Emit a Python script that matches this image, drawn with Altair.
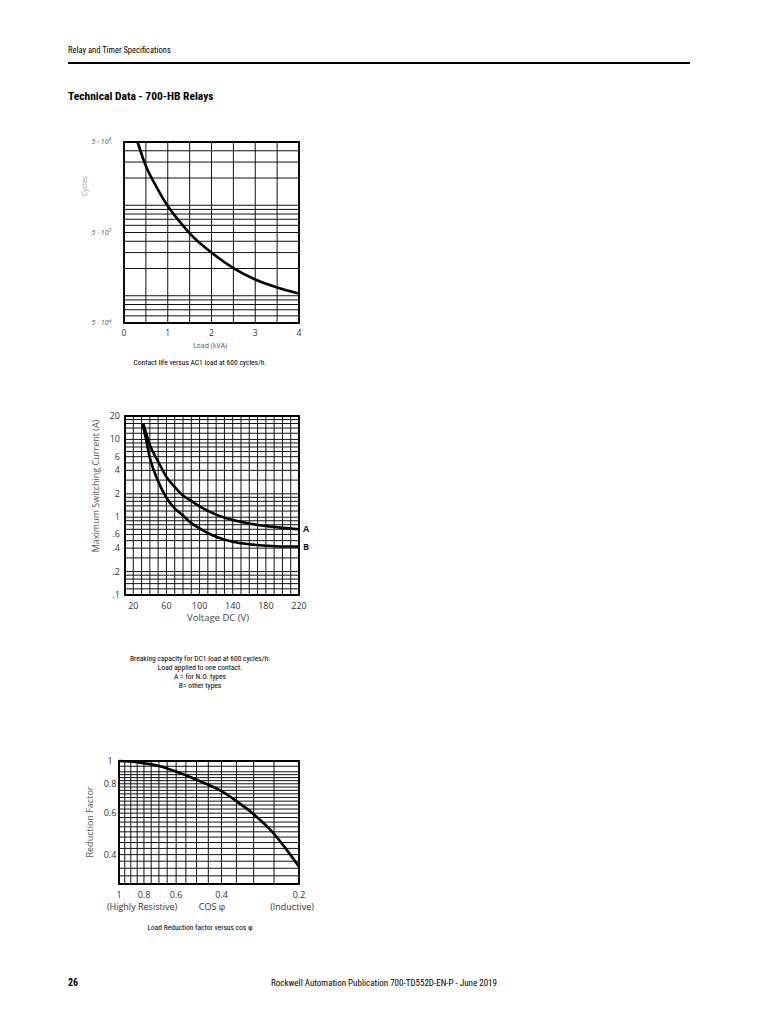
import altair as alt
import pandas as pd

FONT_C = "'Liberation Sans Narrow', 'Roboto Condensed', Roboto, sans-serif"
FONT_R = "'Open Sans', 'Noto Sans', sans-serif"

# ---------------- Chart 1: contact life vs AC1 load ----------------
c1_load = [0.31, 0.5, 0.75, 1.0, 1.25, 1.5, 2.0, 2.5, 3.0, 3.5, 4.0]
c1_cycles = [5.0e6, 2.71e6, 1.57e6, 9.8e5, 6.8e5, 4.9e5, 3.0e5, 2.02e5, 1.51e5, 1.235e5, 1.06e5]
c1_xgrid = [0, 0.5, 1, 1.5, 2, 2.5, 3, 3.5, 4]
c1_ygrid = [5e4, 6e4, 7e4, 8e4, 9e4, 1e5, 2e5, 3e5, 4e5, 5e5, 6e5, 7e5, 8e5, 9e5,
            1e6, 2e6, 3e6, 4e6, 5e6]
c1_xticks = [0, 1, 2, 3, 4]
c1_yticks = [5e4, 5e5, 5e6]
c1_ylabels = ["5 · 10⁴", "5 · 10⁵", "5 · 10⁶"]

# ---------------- Chart 2: DC breaking capacity ----------------
c2_volt_a = [32, 35, 40, 50, 60, 70, 80, 90, 100, 120, 140, 160, 180, 200, 220]
c2_amp_a = [16, 12.5, 8.5, 5.2, 3.3, 2.45, 1.9, 1.62, 1.38, 1.08, 0.92, 0.83, 0.77, 0.73, 0.70]
c2_volt_b = [31, 35, 40, 50, 60, 70, 80, 90, 100, 120, 140, 160, 180, 200, 220]
c2_amp_b = [16, 10.5, 5.8, 2.9, 1.78, 1.3, 1.05, 0.84, 0.72, 0.56, 0.485, 0.45, 0.43, 0.42, 0.42]
c2_xgrid = list(range(10, 221, 10))
c2_ygrid = [0.1, 0.12, 0.14, 0.16, 0.18, 0.2, 0.3, 0.4, 0.5, 0.6, 0.7, 0.8, 0.9,
            1, 1.2, 1.4, 1.6, 1.8, 2, 3, 4, 5, 6, 7, 8, 9,
            10, 12, 14, 16, 18, 20]
c2_xticks = [20, 60, 100, 140, 180, 220]
c2_yticks = [20, 10, 6, 4, 2, 1, 0.6, 0.4, 0.2, 0.1]
c2_ylabels = ["20", "10", "6", "4", "2", "1", ".6", ".4", ".2", ".1"]
c2_series = ["A", "B"]

# ---------------- Chart 3: load reduction factor ----------------
c3_cos = [1.0, 0.95, 0.9, 0.8, 0.7, 0.6, 0.5, 0.4, 0.35, 0.3, 0.25, 0.225, 0.2]
c3_factor = [1.0, 0.998, 0.995, 0.978, 0.953, 0.902, 0.832, 0.744, 0.675, 0.594, 0.49, 0.424, 0.355]
c3_xgrid = [round(0.2 + 0.05 * i, 3) for i in range(17)]
c3_ygrid = [round(0.3 + 0.025 * i, 3) for i in range(25)] + [0.95, 1.0]
c3_xticks = [1, 0.8, 0.6, 0.4, 0.2]
c3_xlabels = ["1", "0.8", "0.6", "0.4", "0.2"]
c3_yticks = [1, 0.8, 0.6, 0.4]
c3_ylabels = ["1", "0.8", "0.6", "0.4"]


def grid(p, xs, ys, sx, sy, xdom, ydom, color, w):
    vdf = pd.DataFrame({p + "x": xs, p + "y": ydom[0], p + "y2": ydom[1]})
    hdf = pd.DataFrame({p + "x": xdom[0], p + "x2": xdom[1], p + "y": ys})
    v = alt.Chart(vdf).mark_rule(color=color, strokeWidth=w).encode(
        x=alt.X(p + "x:Q", scale=sx, axis=None),
        y=alt.Y(p + "y:Q", scale=sy, axis=None),
        y2=p + "y2:Q")
    h = alt.Chart(hdf).mark_rule(color=color, strokeWidth=w).encode(
        x=alt.X(p + "x:Q", scale=sx, axis=None),
        x2=p + "x2:Q",
        y=alt.Y(p + "y:Q", scale=sy, axis=None))
    bdf = pd.DataFrame({p + "x": [xdom[0]], p + "x2": [xdom[1]],
                        p + "y": [ydom[0]], p + "y2": [ydom[1]]})
    b = alt.Chart(bdf).mark_rect(fillOpacity=0, stroke="black", strokeWidth=1.8).encode(
        x=alt.X(p + "x:Q", scale=sx, axis=None), x2=p + "x2:Q",
        y=alt.Y(p + "y:Q", scale=sy, axis=None), y2=p + "y2:Q")
    return v, h, b


def ticktext(p, xs, ys, labels, sx, sy, **kw):
    df = pd.DataFrame({p + "x": xs, p + "y": ys, p + "t": labels})
    return alt.Chart(df).mark_text(**kw).encode(
        x=alt.X(p + "x:Q", scale=sx, axis=None),
        y=alt.Y(p + "y:Q", scale=sy, axis=None),
        text=p + "t:N")


def ptext(text, x, y, size, weight="normal", align="center", color="black",
          font=FONT_C, angle=0, style="normal"):
    df = pd.DataFrame({"t": [text]})
    return alt.Chart(df).mark_text(
        fontSize=size, fontWeight=weight, align=align, baseline="middle",
        color=color, font=font, angle=angle, fontStyle=style).encode(
        x=alt.value(x), y=alt.value(y), text="t:N")


# ---- chart 1 ----
s1x = alt.Scale(domain=[0, 4], range=[124, 299], nice=False, zero=False)
s1y = alt.Scale(type="log", domain=[5e4, 5e6], range=[323, 142], nice=False)
g1 = grid("a", c1_xgrid, c1_ygrid, s1x, s1y, [0, 4], [5e4, 5e6], "#111", 1)
line1 = alt.Chart(pd.DataFrame({"ax": c1_load, "ay": c1_cycles})).mark_line(
    color="black", strokeWidth=2.6, interpolate="monotone").encode(
    x=alt.X("ax:Q", scale=s1x, axis=None), y=alt.Y("ay:Q", scale=s1y, axis=None))
xt1 = ticktext("a", c1_xticks, [5e4] * 5, [str(v) for v in c1_xticks], s1x, s1y,
               dy=10, fontSize=8.5, font=FONT_R, color="#333")
yt1 = ticktext("a", [0] * 3, c1_yticks, c1_ylabels, s1x, s1y,
               dx=-13, align="right", fontSize=7, font=FONT_R, color="#555",
               fontStyle="italic")
chart1 = alt.layer(*g1, line1, xt1, yt1)

# ---- chart 2 ----
s2x = alt.Scale(domain=[10, 220], range=[125, 299], nice=False, zero=False)
s2y = alt.Scale(type="log", domain=[0.1, 20], range=[595, 416], nice=False)
g2 = grid("b", c2_xgrid, c2_ygrid, s2x, s2y, [10, 220], [0.1, 20], "#111", 1)
c2df = pd.concat([
    pd.DataFrame({"bx": c2_volt_a, "by": c2_amp_a, "bs": "A"}),
    pd.DataFrame({"bx": c2_volt_b, "by": c2_amp_b, "bs": "B"})])
line2 = alt.Chart(c2df).mark_line(color="black", strokeWidth=2.6, interpolate="monotone").encode(
    x=alt.X("bx:Q", scale=s2x, axis=None), y=alt.Y("by:Q", scale=s2y, axis=None),
    detail="bs:N")
end2 = ticktext("b", [220, 220], [c2_amp_a[-1], c2_amp_b[-1]], c2_series, s2x, s2y,
                dx=4, align="left", fontSize=9, fontWeight="bold", font=FONT_R, color="#222")
xt2 = ticktext("b", c2_xticks, [0.1] * len(c2_xticks), [str(v) for v in c2_xticks], s2x, s2y,
               dy=11, fontSize=9, font=FONT_R, color="#333")
yt2 = ticktext("b", [10] * len(c2_yticks), c2_yticks, c2_ylabels, s2x, s2y,
               dx=-5, align="right", fontSize=9, font=FONT_R, color="#333")
chart2 = alt.layer(*g2, line2, end2, xt2, yt2)

# ---- chart 3 ----
s3x = alt.Scale(type="log", domain=[0.2, 1], range=[299, 119], nice=False)
s3y = alt.Scale(type="log", domain=[0.3, 1], range=[884, 761], nice=False)
g3 = grid("c", c3_xgrid, c3_ygrid, s3x, s3y, [0.2, 1], [0.3, 1], "#111", 1)
line3 = alt.Chart(pd.DataFrame({"cx": c3_cos, "cy": c3_factor})).mark_line(
    color="black", strokeWidth=2.6, interpolate="monotone").encode(
    x=alt.X("cx:Q", scale=s3x, axis=None), y=alt.Y("cy:Q", scale=s3y, axis=None))
xt3 = ticktext("c", c3_xticks, [0.3] * len(c3_xticks), c3_xlabels, s3x, s3y,
               dy=11, fontSize=9, font=FONT_R, color="#333")
yt3 = ticktext("c", [1] * len(c3_yticks), c3_yticks, c3_ylabels, s3x, s3y,
               dx=-9, align="center", fontSize=9, font=FONT_R, color="#333")
chart3 = alt.layer(*g3, line3, xt3, yt3)

# ---- page text ----
page = [
    ptext("Relay and Timer Specifications", 68, 50, 8.5, align="left"),
    alt.Chart(pd.DataFrame({"k": [0]})).mark_rule(color="black", strokeWidth=2.2).encode(
        x=alt.value(68), x2=alt.value(690), y=alt.value(63)),
    ptext("Technical Data - 700-HB Relays", 68, 97, 11.5, weight="bold", align="left"),
    ptext("Cycles", 85, 186, 7, color="#999", font=FONT_R, angle=270),
    ptext("Load (kVA)", 210, 346, 7, color="#555", font=FONT_R),
    ptext("Contact life versus AC1 load at 600 cycles/h.", 200, 363, 7.5),
    ptext("Maximum Switching Current (A)", 96, 486, 9, color="#555", font=FONT_R, angle=270),
    ptext("Voltage DC (V)", 218, 618, 9.5, color="#444", font=FONT_R),
    ptext("Breaking capacity for DC1 load at 600 cycles/h.", 200, 659, 7.5),
    ptext("Load applied to one contact.", 200, 668, 7.5),
    ptext("A = for N.O. types", 200, 677, 7.5),
    ptext("B= other types", 200, 686, 7.5),
    ptext("Reduction Factor", 90, 822, 9, color="#555", font=FONT_R, angle=270),
    ptext("(Highly Resistive)", 142, 907, 9, color="#333", font=FONT_R),
    ptext("COS φ", 212, 907, 9, color="#333", font=FONT_R),
    ptext("(Inductive)", 292, 907, 9, color="#333", font=FONT_R),
    ptext("Load Reduction factor versus cos φ", 200, 928, 7.5),
    ptext("26", 68, 983, 10, weight="bold", align="left"),
    ptext("Rockwell Automation Publication 700-TD552D-EN-P - June 2019", 384, 983, 9),
]

chart = alt.layer(chart1, chart2, chart3, *page).resolve_scale(
    x="independent", y="independent"
).properties(
    width=768, height=1024, padding=0,
    autosize=alt.AutoSizeParams(type="none"),
    background="white",
).configure_view(stroke=None)

chart.save("out.html", embed_options={"renderer": "svg", "actions": False})
